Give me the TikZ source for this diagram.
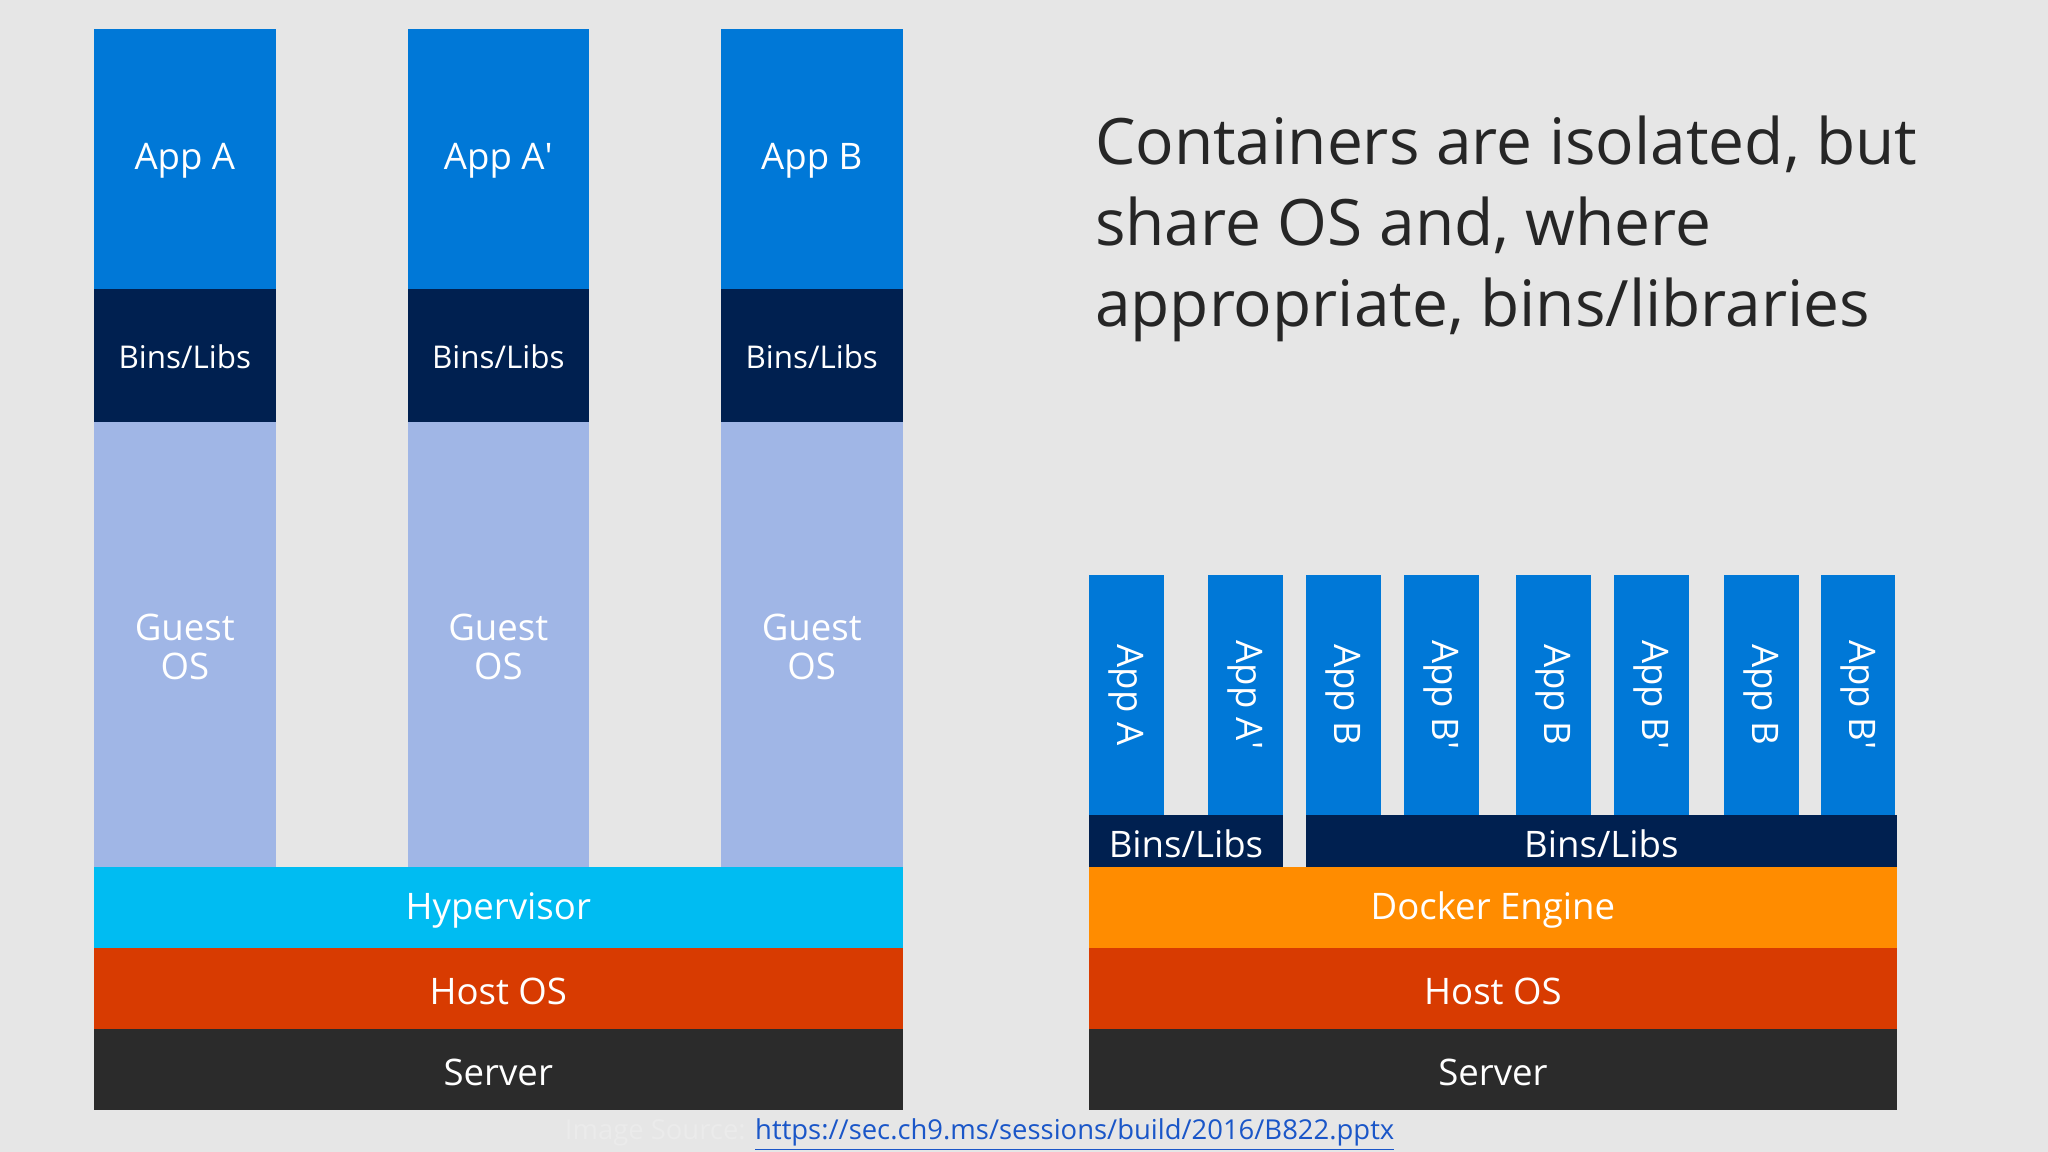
\documentclass[tikz,border=0pt]{standalone}
\usepackage{fontspec}
\setmainfont{Open Sans}
\begin{document}
\begin{tikzpicture}[x=0.5pt,y=-0.5pt,
  lbl/.style={text=white,font=\fontsize{14}{17}\selectfont},
  blk/.style={inner sep=0,outer sep=0}]
\definecolor{bg}{HTML}{E6E6E6}
\definecolor{appc}{HTML}{0078D7}
\definecolor{binc}{HTML}{002050}
\definecolor{osc}{HTML}{A0B6E6}
\definecolor{hypc}{HTML}{00BCF2}
\definecolor{hostc}{HTML}{D83B01}
\definecolor{srvc}{HTML}{2B2B2B}
\definecolor{dockc}{HTML}{FF8C00}
\fill[bg] (0,0) rectangle (1568,882);
\useasboundingbox (0,0) rectangle (1568,882);
% left VMs
\foreach \x/\a/\n in {72/App A/1,312/App A\textquotesingle/2,552/App B/3}{
  \fill[appc] (\x,22) rectangle (\x+139,221);
  \fill[binc] (\x,221) rectangle (\x+139,323);
  \fill[osc] (\x,323) rectangle (\x+139,664);
  \node[lbl] (app\n) at (\x+69.5,123) {\a};
  \node[lbl,font=\fontsize{12}{14}\selectfont] (bin\n) at (\x+69.5,273) {Bins/Libs};
  \node[lbl,align=center,font=\fontsize{14}{17}\selectfont] (os\n) at (\x+69.5,495) {Guest\\[-2pt]OS};
}
\fill[hypc] (72,664) rectangle (691,726);
\fill[hostc] (72,726) rectangle (691,788);
\fill[srvc] (72,788) rectangle (691,850);
\node[lbl] (hyp) at (381.5,697) {Hypervisor};
\node[lbl] (hostl) at (381.5,759) {Host OS};
\node[lbl] (srvl) at (381.5,821) {Server};
% right containers
\foreach \x/\a/\n in {834/App A/1,925/App A\textquotesingle/2,1000/App B/3,1075/App B\textquotesingle/4,1161/App B/5,1236/App B\textquotesingle/6,1320/App B/7,1394/App B\textquotesingle/8}{
  \fill[appc] (\x,440) rectangle (\x+57,624);
  \node[lbl,rotate=-90] (c\n) at (\x+28.5,532) {\a};
}
\fill[binc] (834,624) rectangle (982,664);
\fill[binc] (1000,624) rectangle (1452,664);
\node[lbl] (rb1) at (908,646) {Bins/Libs};
\node[lbl] (rb2) at (1226,646) {Bins/Libs};
\fill[dockc] (834,664) rectangle (1452,726);
\fill[hostc] (834,726) rectangle (1452,788);
\fill[srvc] (834,788) rectangle (1452,850);
\node[lbl] (dock) at (1143,697) {Docker Engine};
\node[lbl] (hostr) at (1143,759) {Host OS};
\node[lbl] (srvr) at (1143,821) {Server};
% title
\node[anchor=north west,align=left,text=black!85,font=\fontsize{24.5}{31}\selectfont,inner sep=0] (title) at (838,88)
  {Containers are isolated, but\\share OS and, where\\appropriate, bins/libraries};
% source
\node[font=\fontsize{10.5}{12}\selectfont,inner sep=0] (src) at (750,869)
  {\textcolor{white!92!black}{Image Source: }\textcolor[HTML]{1A56C8}{\underline{https://sec.ch9.ms/sessions/build/2016/B822.pptx}}};
\end{tikzpicture}
\end{document}
